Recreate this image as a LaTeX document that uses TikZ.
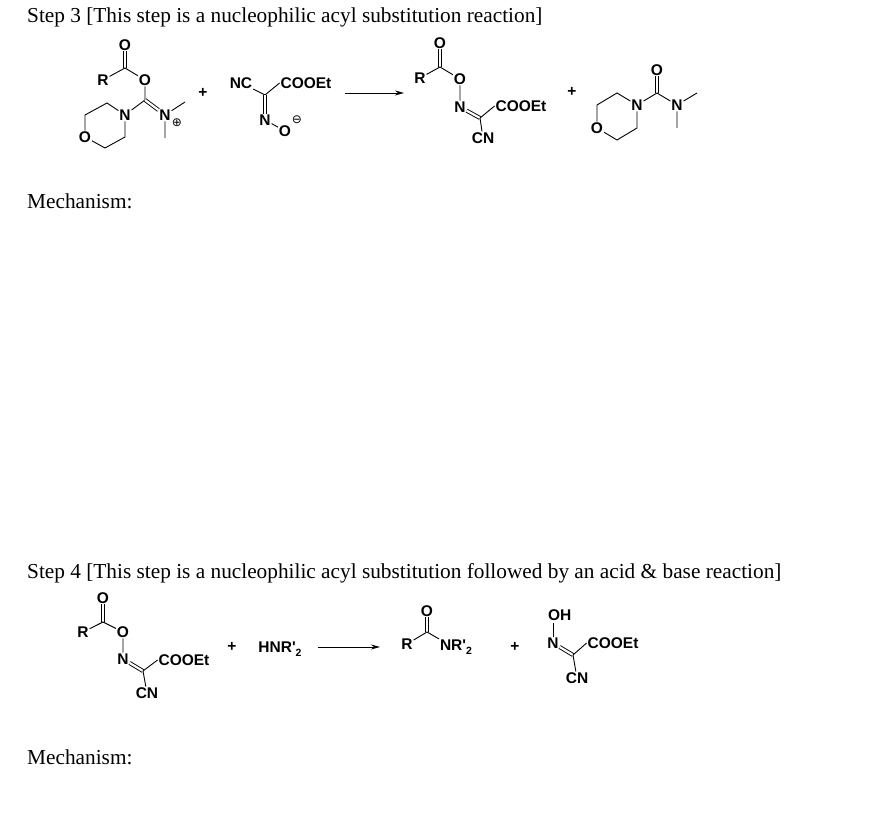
\documentclass[tikz,border=0pt]{standalone}
\usepackage{fontspec}
\usetikzlibrary{arrows.meta}
\setmainfont{Liberation Serif}
\newfontfamily\atomf{Liberation Sans Bold}
\newfontfamily\symf{DejaVu Sans}
\newcommand{\rpr}{R'\raisebox{-3.5pt}{\fontsize{10.5}{10.5}\selectfont 2}}
\begin{document}
\begin{tikzpicture}[x=1pt,y=-1pt,
  atm/.style={font=\atomf\fontsize{15.5}{15.5}\selectfont,inner sep=0.8pt},
  ttl/.style={font=\fontsize{21.3}{23}\selectfont,anchor=base west,inner sep=0pt},
  bd/.style={line width=0.9pt},
  db/.style={line width=0.9pt,double,double distance=2.2pt},
  chg/.style={font=\symf\fontsize{12}{12}\selectfont,inner sep=0pt},
  arr/.style={line width=0.9pt,-{Stealth[length=9pt,width=5pt]}}]
\useasboundingbox (0,0) rectangle (892,834);
\node[ttl] (t3) at (27,23) {Step 3 [This step is a nucleophilic acyl substitution reaction]};
\node[ttl] (m3) at (27,209) {Mechanism:};
\node[ttl] (t4) at (27,578) {Step 4 [This step is a nucleophilic acyl substitution followed by an acid \& base reaction]};
\node[ttl] (m4) at (27,764) {Mechanism:};
% ---- Step 3 reactant 1
\node[atm] (o1) at (125,45) {O};
\coordinate (c1) at (125,68);
\node[atm] (r1) at (103,80) {R};
\node[atm] (oe1) at (145,80) {O};
\coordinate (cc1) at (145,100);
\node[atm] (n1) at (125,115) {N};
\node[atm] (np1) at (165,115) {N};
\node[chg] (pl1) at (177,123) {⊕};
\coordinate (me1) at (185,102);
\coordinate (me2) at (165,138);
\coordinate (rA) at (107,103);
\coordinate (rB) at (85,115);
\node[atm] (ro1) at (85,137) {O};
\coordinate (rC) at (105,148);
\coordinate (rD) at (125,137);
\draw[db] (o1) -- (c1);
\draw[bd] (r1) -- (c1) -- (oe1) -- (cc1) -- (n1);
\draw[db] (cc1) -- (np1);
\draw[bd] (np1) -- (me1) (np1) -- (me2);
\draw[bd] (n1) -- (rA) -- (rB) -- (ro1) -- (rC) -- (rD) -- (n1);
\node[atm] (plus1) at (203,93) {+};
% ---- reactant 2
\node[atm] (nc2) at (241,83) {NC};
\coordinate (c2) at (265,95);
\node[atm] (co2) at (306,83) {COOEt};
\node[atm] (n2) at (265,120) {N};
\node[atm] (o2) at (285,131) {O};
\node[chg] (mi2) at (297,120) {⊖};
\draw[bd] (nc2) -- (c2) -- (co2.west);
\draw[db] (c2) -- (n2);
\draw[bd] (n2) -- (o2);
% arrow
\coordinate (a1s) at (345,93);
\coordinate (a1e) at (404,93);
\draw[arr] (a1s) -- (a1e);
% ---- product 1
\node[atm] (o3) at (440,43) {O};
\coordinate (c3) at (440,67);
\node[atm] (r3) at (420,78) {R};
\node[atm] (oe3) at (460,79) {O};
\node[atm] (n3) at (460,107) {N};
\coordinate (cc3) at (480,118);
\node[atm] (co3) at (521,106) {COOEt};
\node[atm] (cn3) at (483,138) {CN};
\draw[db] (o3) -- (c3);
\draw[bd] (r3) -- (c3) -- (oe3) -- (n3);
\draw[db] (n3) -- (cc3);
\draw[bd] (cc3) -- (co3.west) (cc3) -- (cn3);
\node[atm] (plus2) at (572,92) {+};
% ---- urea
\node[atm] (o4) at (657,70) {O};
\coordinate (c4) at (657,93);
\node[atm] (n4) at (637,105) {N};
\node[atm] (n5) at (677,105) {N};
\coordinate (me3) at (697,93);
\coordinate (me4) at (677,128);
\coordinate (uA) at (617,93);
\coordinate (uB) at (597,105);
\node[atm] (uo) at (597,128) {O};
\coordinate (uC) at (617,140);
\coordinate (uD) at (637,128);
\draw[db] (o4) -- (c4);
\draw[bd] (n4) -- (c4) -- (n5) -- (me3) (n5) -- (me4);
\draw[bd] (n4) -- (uA) -- (uB) -- (uo) -- (uC) -- (uD) -- (n4);
% ---- Step 4 reactant
\node[atm] (o6) at (103,598) {O};
\coordinate (c6) at (103,622);
\node[atm] (r6) at (83,632) {R};
\node[atm] (oe6) at (123,632) {O};
\node[atm] (n6) at (123,659) {N};
\coordinate (cc6) at (143,671);
\node[atm] (co6) at (184,660) {COOEt};
\node[atm] (cn6) at (147,693) {CN};
\draw[db] (o6) -- (c6);
\draw[bd] (r6) -- (c6) -- (oe6) -- (n6);
\draw[db] (n6) -- (cc6);
\draw[bd] (cc6) -- (co6.west) (cc6) -- (cn6);
\node[atm] (plus3) at (232,647) {+};
\node[atm] (hnr) at (280,649) {HN\rpr};
\coordinate (a2s) at (318,647);
\coordinate (a2e) at (380,647);
\draw[arr] (a2s) -- (a2e);
\node[atm] (r7) at (407,644) {R};
\coordinate (c7) at (427,632);
\node[atm] (o7) at (427,611) {O};
\node[atm] (nr7) at (456,647) {N\rpr};
\draw[db] (o7) -- (c7);
\draw[bd] (r7) -- (c7) -- (nr7.north west);
\node[atm] (plus4) at (515,647) {+};
\node[atm,anchor=west] (oh8) at (547,615) {OH};
\node[atm] (n8) at (553,643) {N};
\coordinate (c8) at (573,655);
\node[atm] (co8) at (613,643) {COOEt};
\node[atm] (cn8) at (577,678) {CN};
\coordinate (ohb) at (553,623);
\draw[bd] (ohb) -- (n8);
\draw[db] (n8) -- (c8);
\draw[bd] (c8) -- (co8.west) (c8) -- (cn8);
\end{tikzpicture}
\end{document}
